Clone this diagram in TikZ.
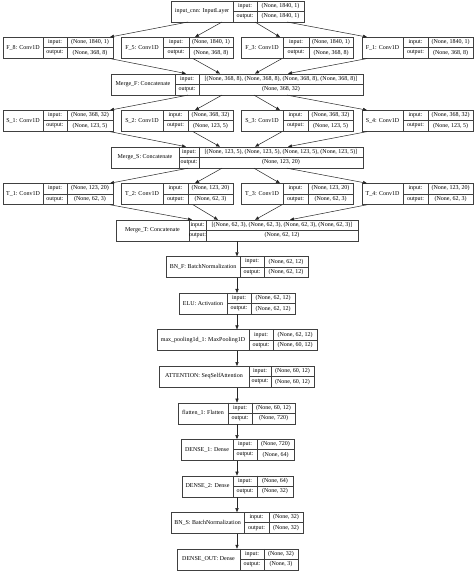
\documentclass[tikz,border=0pt]{standalone}
\usepackage{fontspec}
\setmainfont{Liberation Serif}
\usetikzlibrary{arrows.meta}
\tikzset{
  cell/.style={draw=black!75, line width=0.5pt},
  lbl/.style={font=\fontsize{6}{7}\selectfont, inner sep=0pt},
  arr/.style={draw=black!85, line width=0.5pt, -{Triangle[length=4pt,width=3.2pt]}},
  frame/.style={draw=black!75, line width=0.5pt, inner sep=0pt, anchor=north west},
}
\newcommand\setx[4]{\def\LXa{#1}\def\LXb{#2}\def\LXc{#3}\def\LXd{#4}}
\newcommand\layer[5]{%
  \pgfmathsetmacro\LYa{0.5+36.55*#2}%
  \pgfmathsetmacro\LYb{\LYa+21}%
  \pgfmathsetmacro\LYm{(\LYa+\LYb)/2}%
  \pgfmathsetmacro\LW{\LXd-\LXa}%
  \node[frame, minimum width=\LW pt, minimum height=21pt] (#1) at (\LXa,\LYa) {};
  \draw[cell] (\LXb,\LYa) -- (\LXb,\LYb) (\LXc,\LYa) -- (\LXc,\LYb) (\LXb,\LYm) -- (\LXd,\LYm);
  \node[lbl] (#1-l) at ({(\LXa+\LXb)/2},\LYm) {#3};
  \node[lbl] (#1-it) at ({(\LXb+\LXc)/2},{(\LYa+\LYm)/2}) {input:};
  \node[lbl] (#1-ot) at ({(\LXb+\LXc)/2},{(\LYm+\LYb)/2}) {output:};
  \node[lbl] (#1-iv) at ({(\LXc+\LXd)/2},{(\LYa+\LYm)/2}) {#4};
  \node[lbl] (#1-ov) at ({(\LXc+\LXd)/2},{(\LYm+\LYb)/2}) {#5};
}
\begin{document}
\begin{tikzpicture}[x=1pt,y=-1pt]
\fill[white] (0,0) rectangle (474,571);
\useasboundingbox (0,0) rectangle (474,571);
% input
\setx{171}{233}{257}{304}\layer{in}{0}{input\_cnn: InputLayer}{(None, 1840, 1)}{(None, 1840, 1)}
% F row
\setx{3}{43}{67}{113}\layer{f8}{1}{F\_8: Conv1D}{(None, 1840, 1)}{(None, 368, 8)}
\setx{121}{163}{189}{233}\layer{f5}{1}{F\_5: Conv1D}{(None, 1840, 1)}{(None, 368, 8)}
\setx{241}{283}{309}{353}\layer{f3}{1}{F\_3: Conv1D}{(None, 1840, 1)}{(None, 368, 8)}
\setx{362}{403}{428}{473}\layer{f1}{1}{F\_1: Conv1D}{(None, 1840, 1)}{(None, 368, 8)}
\setx{111}{175}{199}{363}\layer{mf}{2}{Merge\_F: Concatenate}{[(None, 368, 8), (None, 368, 8), (None, 368, 8), (None, 368, 8)]}{(None, 368, 32)}
% S row
\setx{3}{43}{67}{113}\layer{s1}{3}{S\_1: Conv1D}{(None, 368, 32)}{(None, 123, 5)}
\setx{121}{163}{188}{233}\layer{s2}{3}{S\_2: Conv1D}{(None, 368, 32)}{(None, 123, 5)}
\setx{241}{283}{308}{353}\layer{s3}{3}{S\_3: Conv1D}{(None, 368, 32)}{(None, 123, 5)}
\setx{362}{403}{428}{473}\layer{s4}{3}{S\_4: Conv1D}{(None, 368, 32)}{(None, 123, 5)}
\setx{111}{179}{199}{363}\layer{ms}{4}{Merge\_S: Concatenate}{[(None, 123, 5), (None, 123, 5), (None, 123, 5), (None, 123, 5)]}{(None, 123, 20)}
% T row
\setx{3}{43}{67}{113}\layer{t1}{5}{T\_1: Conv1D}{(None, 123, 20)}{(None, 62, 3)}
\setx{121}{163}{188}{233}\layer{t2}{5}{T\_2: Conv1D}{(None, 123, 20)}{(None, 62, 3)}
\setx{241}{283}{308}{353}\layer{t3}{5}{T\_3: Conv1D}{(None, 123, 20)}{(None, 62, 3)}
\setx{362}{403}{428}{473}\layer{t4}{5}{T\_4: Conv1D}{(None, 123, 20)}{(None, 62, 3)}
\setx{116}{189}{206}{358}\layer{mt}{6}{Merge\_T: Concatenate}{[(None, 62, 3), (None, 62, 3), (None, 62, 3), (None, 62, 3)]}{(None, 62, 12)}
% chain
\setx{166}{240}{264}{308}\layer{bnf}{7}{BN\_F: BatchNormalization}{(None, 62, 12)}{(None, 62, 12)}
\setx{179}{227}{251}{295}\layer{elu}{8}{ELU: Activation}{(None, 62, 12)}{(None, 62, 12)}
\setx{157}{249}{273}{317}\layer{mp}{9}{max\_pooling1d\_1: MaxPooling1D}{(None, 62, 12)}{(None, 60, 12)}
\setx{159}{249}{271}{314}\layer{att}{10}{ATTENTION: SeqSelfAttention}{(None, 60, 12)}{(None, 60, 12)}
\setx{178}{228}{252}{295}\layer{fl}{11}{flatten\_1: Flatten}{(None, 60, 12)}{(None, 720)}
\setx{181}{233}{257}{294}\layer{d1}{12}{DENSE\_1: Dense}{(None, 720)}{(None, 64)}
\setx{182}{233}{257}{293}\layer{d2}{13}{DENSE\_2: Dense}{(None, 64)}{(None, 32)}
\setx{171}{244}{269}{303}\layer{bns}{14}{BN\_S: BatchNormalization}{(None, 32)}{(None, 32)}
\setx{177}{240}{264}{298}\layer{dout}{15}{DENSE\_OUT: Dense}{(None, 32)}{(None, 3)}
% fan-out arrows
\draw[arr] (188,0 |- in.south) -- (110,0 |- f8.north);
\draw[arr] (222,0 |- in.south) -- (195,0 |- f5.north);
\draw[arr] (255,0 |- in.south) -- (280,0 |- f3.north);
\draw[arr] (287,0 |- in.south) -- (367,0 |- f1.north);
\draw[arr] (110,0 |- f8.south) -- (186,0 |- mf.north);
\draw[arr] (193,0 |- f5.south) -- (220,0 |- mf.north);
\draw[arr] (282,0 |- f3.south) -- (255,0 |- mf.north);
\draw[arr] (367,0 |- f1.south) -- (288,0 |- mf.north);
\draw[arr] (188,0 |- mf.south) -- (110,0 |- s1.north);
\draw[arr] (222,0 |- mf.south) -- (195,0 |- s2.north);
\draw[arr] (254,0 |- mf.south) -- (280,0 |- s3.north);
\draw[arr] (287,0 |- mf.south) -- (367,0 |- s4.north);
\draw[arr] (110,0 |- s1.south) -- (186,0 |- ms.north);
\draw[arr] (193,0 |- s2.south) -- (220,0 |- ms.north);
\draw[arr] (282,0 |- s3.south) -- (255,0 |- ms.north);
\draw[arr] (367,0 |- s4.south) -- (288,0 |- ms.north);
\draw[arr] (188,0 |- ms.south) -- (110,0 |- t1.north);
\draw[arr] (222,0 |- ms.south) -- (195,0 |- t2.north);
\draw[arr] (254,0 |- ms.south) -- (280,0 |- t3.north);
\draw[arr] (287,0 |- ms.south) -- (367,0 |- t4.north);
\draw[arr] (110,0 |- t1.south) -- (192,0 |- mt.north);
\draw[arr] (193,0 |- t2.south) -- (218,0 |- mt.north);
\draw[arr] (282,0 |- t3.south) -- (255,0 |- mt.north);
\draw[arr] (367,0 |- t4.south) -- (290,0 |- mt.north);
% vertical chain
\draw[arr] (237,0 |- mt.south) -- (237,0 |- bnf.north);
\draw[arr] (237,0 |- bnf.south) -- (237,0 |- elu.north);
\draw[arr] (237,0 |- elu.south) -- (237,0 |- mp.north);
\draw[arr] (237,0 |- mp.south) -- (237,0 |- att.north);
\draw[arr] (237,0 |- att.south) -- (237,0 |- fl.north);
\draw[arr] (237,0 |- fl.south) -- (237,0 |- d1.north);
\draw[arr] (237,0 |- d1.south) -- (237,0 |- d2.north);
\draw[arr] (237,0 |- d2.south) -- (237,0 |- bns.north);
\draw[arr] (237,0 |- bns.south) -- (237,0 |- dout.north);
\end{tikzpicture}
\end{document}
